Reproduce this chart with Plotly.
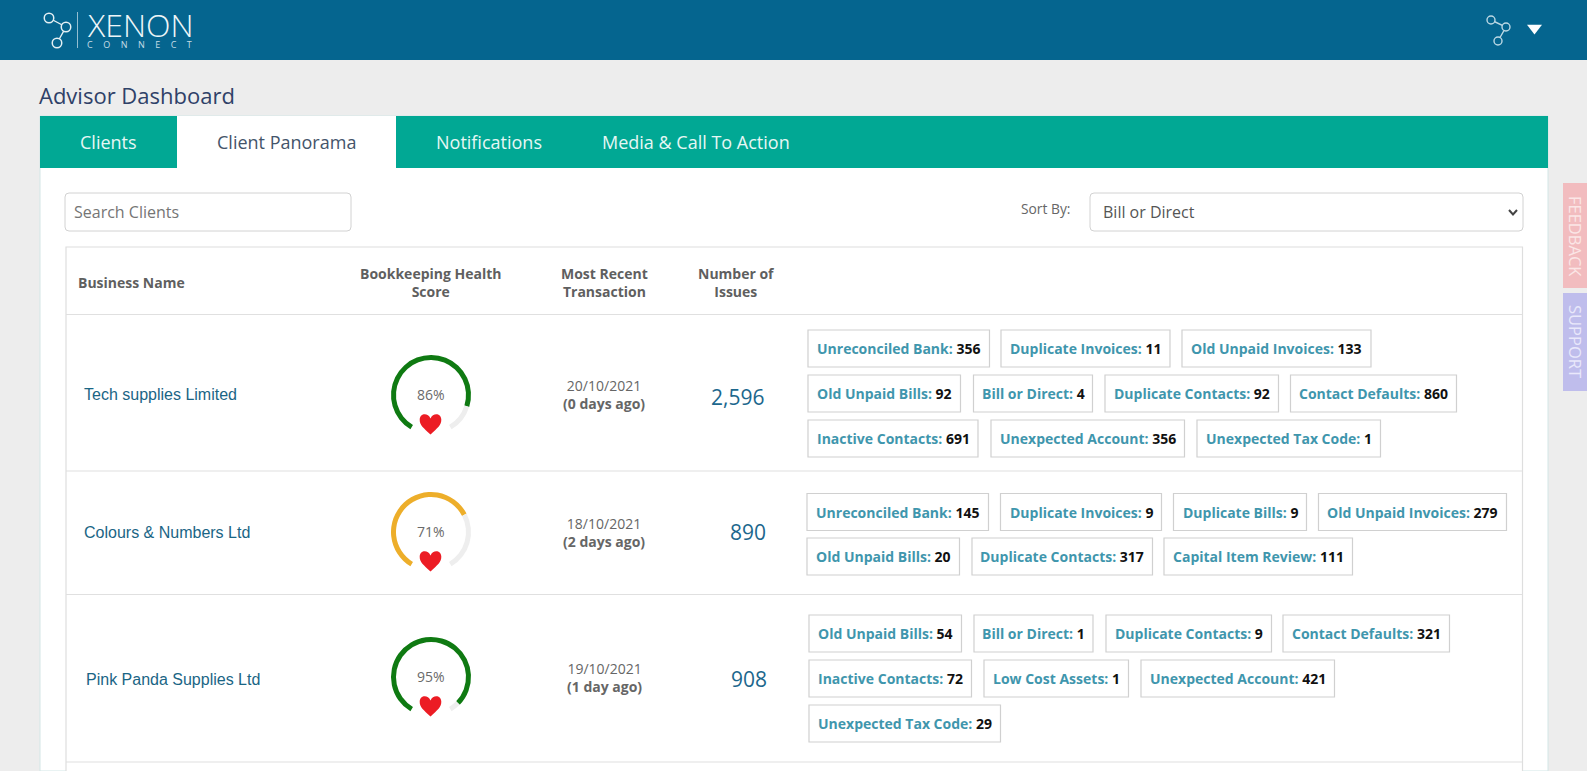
import plotly.graph_objects as go

W, H = 1587, 771

# table contents
business_names = ["Tech supplies Limited", "Colours & Numbers Ltd", "Pink Panda Supplies Ltd"]
health_scores = [86, 71, 95]
transaction_dates = ["20/10/2021", "18/10/2021", "19/10/2021"]
days_ago = ["(0 days ago)", "(2 days ago)", "(1 day ago)"]
issue_counts = [2596, 890, 908]

labels_tech = ["Unreconciled Bank", "Duplicate Invoices", "Old Unpaid Invoices",
               "Old Unpaid Bills", "Bill or Direct", "Duplicate Contacts", "Contact Defaults",
               "Inactive Contacts", "Unexpected Account", "Unexpected Tax Code"]
values_tech = [356, 11, 133, 92, 4, 92, 860, 691, 356, 1]

labels_colours = ["Unreconciled Bank", "Duplicate Invoices", "Duplicate Bills", "Old Unpaid Invoices",
                  "Old Unpaid Bills", "Duplicate Contacts", "Capital Item Review"]
values_colours = [145, 9, 9, 279, 20, 317, 111]

labels_panda = ["Old Unpaid Bills", "Bill or Direct", "Duplicate Contacts", "Contact Defaults",
                "Inactive Contacts", "Low Cost Assets", "Unexpected Account",
                "Unexpected Tax Code"]
values_panda = [54, 1, 9, 321, 72, 1, 421, 29]

column_heads = ["Bookkeeping Health<br>Score", "Most Recent<br>Transaction", "Number of<br>Issues"]

# page layout, in pixels
left_tech = [808, 1001, 1182, 808, 973.5, 1105, 1290.5, 808, 991, 1197]
right_tech = [989.5, 1170, 1371, 960.5, 1092.5, 1278.5, 1456.5, 978, 1184.5, 1380.5]
top_tech = [330, 330, 330, 375, 375, 375, 375, 420, 420, 420]

left_colours = [807, 1000.5, 1173.5, 1318.5, 807, 972, 1164]
right_colours = [988.5, 1161.5, 1306.5, 1506.5, 959.5, 1152.5, 1352.5]
top_colours = [493.5, 493.5, 493.5, 493.5, 538, 538, 538]

left_panda = [809, 974, 1106, 1283, 809, 984, 1141, 809]
right_panda = [961.5, 1093, 1271.5, 1449.5, 971.5, 1128.5, 1334.5, 1000.5]
top_panda = [615, 615, 615, 615, 660, 660, 660, 705]

row_lines = [314.5, 471, 594.5, 762]
gauge_x = 431
gauge_y = [395, 532, 677]
name_x = [84, 84, 86]
name_y = [394, 532, 679]
date_y = [385, 523, 668]
issues_x = [737, 748, 748.5]
issues_y = [397, 532, 679]
gauge_colors = ["#0f7a12", "#edae2a", "#0f7a12"]

BAR = "#05658f"
TEAL = "#01a894"
SANS = "Open Sans"

shapes = []
notes = []


def box(x0, y0, x1, y1, fill="rgba(0,0,0,0)", line=None, width=1):
    shapes.append(dict(type="rect", x0=x0, y0=y0, x1=x1, y1=y1, fillcolor=fill, layer="below",
                       line=dict(color=line or fill, width=width if line else 0)))


def rounded(x0, y0, x1, y1, r=4):
    path = (f"M{x0+r},{y0} L{x1-r},{y0} Q{x1},{y0} {x1},{y0+r} L{x1},{y1-r} Q{x1},{y1} {x1-r},{y1} "
            f"L{x0+r},{y1} Q{x0},{y1} {x0},{y1-r} L{x0},{y0+r} Q{x0},{y0} {x0+r},{y0} Z")
    shapes.append(dict(type="path", path=path, fillcolor="white", layer="below",
                       line=dict(color="#d2d2d2", width=1)))


def label(text, x, y, size, color, anchor="center", family=SANS, angle=0, weight=None):
    font = dict(family=family, size=size, color=color)
    if weight:
        font["weight"] = weight
    notes.append(dict(text=text, x=x, y=y, xref="x", yref="y", showarrow=False, xanchor=anchor,
                      yanchor="middle", align="center", textangle=angle, font=font,
                      borderpad=0, borderwidth=0))


def heart(cx, cy):
    path = (f"M{cx},{cy+10.5} C{cx-7},{cy+4} {cx-11},{cy+1} {cx-10.8},{cy-4.5} "
            f"C{cx-10.5},{cy-11} {cx-2.5},{cy-11.5} {cx},{cy-5.5} "
            f"C{cx+2.5},{cy-11.5} {cx+10.5},{cy-11} {cx+10.8},{cy-4.5} "
            f"C{cx+11},{cy+1} {cx+7},{cy+4} {cx},{cy+10.5} Z")
    shapes.append(dict(type="path", path=path, fillcolor="#ec1c24", line=dict(width=0), layer="above"))


# page chrome
box(0, 0, W, H, "#ededed")
box(0, 0, W, 60, BAR)
box(40, 116, 1548, H, "white", "#d3e6e6")
box(40, 116, 1548, 168, TEAL)
box(177, 116, 396, 168, "white")
box(77, 12, 77.8, 48, "#b9d6e2")

label("XENON", 87, 24.5, 32, "#eef6f8", "left", weight=300)
label("C\u2003\u2009O\u2003\u2009N\u2003\u2009N\u2003\u2009E\u2003\u2009C\u2003\u2009T", 87, 44.5, 9, "#c6dde6", "left")
label("Advisor Dashboard", 39, 94.5, 22, "#2f4168", "left")
label("Clients", 108, 142, 18, "#e6f7f4")
label("Client Panorama", 286, 142, 18, "#44546a")
label("Notifications", 489, 142, 18, "#e6f7f4")
label("Media & Call To Action", 695.5, 142, 18, "#e6f7f4")

rounded(65, 193, 351, 231)
label("Search Clients", 74, 212, 16, "#757575", "left")
label("Sort By:", 1070, 208.5, 13.8, "#666666", "right")
rounded(1090, 193, 1523, 231)
label("Bill or Direct", 1103, 212, 16, "#555555", "left")
shapes.append(dict(type="path", path="M1509,210 L1513,214.5 L1517,210", line=dict(color="#444444", width=2), layer="below"))

box(1563, 183, 1587, 288, "#f2bcbf")
box(1563, 293, 1587, 391, "#bfbdec")
label("FEEDBACK", 1576, 236, 16.5, "#fbe6e6", angle=90)
label("SUPPORT", 1576, 341, 16.5, "#e9e8fb", angle=90)

# table frame and heads
box(66, 247, 1522.5, H + 5, "white", "#dedede", 1.2)
for y in row_lines:
    shapes.append(dict(type="line", x0=66, x1=1522.5, y0=y, y1=y, layer="below", line=dict(color="#e0e0e0", width=1.2)))
label("<b>Business Name</b>", 78, 282, 14, "#5f5f5f", "left")
for head, x in zip(column_heads, [431, 604.5, 736]):
    label(f"<b>{head}</b>", x, 282, 14, "#5f5f5f")

fig = go.Figure()

# logo nodes
fig.add_trace(go.Scatter(x=[49, 66, 57], y=[18, 27, 43], mode="lines+markers", hoverinfo="skip",
                         line=dict(color="#e4f0f4", width=1.4),
                         marker=dict(size=9.5, color=BAR, line=dict(color="#e4f0f4", width=1.5))))
fig.add_trace(go.Scatter(x=[1491, 1506, 1498], y=[20, 27, 41], mode="lines+markers", hoverinfo="skip",
                         line=dict(color="#bcd8e4", width=1.4),
                         marker=dict(size=8, color=BAR, line=dict(color="#bcd8e4", width=1.4))))
fig.add_trace(go.Scatter(x=[1534.5], y=[28], mode="markers", hoverinfo="skip",
                         marker=dict(symbol="triangle-down", size=13, color="white", line=dict(width=0))))

# score gauges: the arc covers 298 degrees, the rest is the gap at the bottom
gap = 100 * 62 / 298
for i, score in enumerate(health_scores):
    cy = gauge_y[i]
    fig.add_trace(go.Pie(values=[score, 100 - score, gap], sort=False, direction="clockwise", rotation=211,
                         hole=0.875, textinfo="none", hoverinfo="skip", showlegend=False,
                         domain=dict(x=[(gauge_x - 40) / W, (gauge_x + 40) / W],
                                     y=[1 - (cy + 40) / H, 1 - (cy - 40) / H]),
                         marker=dict(colors=[gauge_colors[i], "#eeeeee", "rgba(0,0,0,0)"], line=dict(width=0))))
    label(f"{score}%", gauge_x, cy - 0.5, 14, "#6a6a6a")
    heart(gauge_x - 0.5, cy + 29)

# table rows
for i, name in enumerate(business_names):
    label(name, name_x[i], name_y[i], 16, "#1a6585", "left", family="Liberation Sans")
    label(f"{transaction_dates[i]}<br><b>{days_ago[i]}</b>", 604, date_y[i] + 9.5, 14, "#666666")
    label(f"{issue_counts[i]:,}", issues_x[i], issues_y[i], 21, "#1c678d")

chip_sets = [(labels_tech, values_tech, left_tech, right_tech, top_tech),
             (labels_colours, values_colours, left_colours, right_colours, top_colours),
             (labels_panda, values_panda, left_panda, right_panda, top_panda)]
for labels, values, lefts, rights, tops in chip_sets:
    for name, value, x0, x1, y0 in zip(labels, values, lefts, rights, tops):
        box(x0, y0, x1, y0 + 37, "white", "#d0d0d0", 1.2)
        text = f"<b><span style='color:#3f96ad'>{name}:</span> <span style='color:#111111'>{value}</span></b>"
        label(text, (x0 + x1) / 2, y0 + 18.5, 14, "#3f96ad")

fig.update_layout(
    width=W,
    height=H,
    margin=dict(l=0, r=0, t=0, b=0),
    showlegend=False,
    paper_bgcolor="#ededed",
    plot_bgcolor="#ededed",
    shapes=shapes,
    annotations=notes,
    xaxis=dict(range=[0, W], visible=False, fixedrange=True),
    yaxis=dict(range=[H, 0], visible=False, fixedrange=True),
)

fig.write_html("out.html", config=dict(displayModeBar=False),
               post_script="document.body.style.margin='0';document.body.style.overflow='hidden';")
